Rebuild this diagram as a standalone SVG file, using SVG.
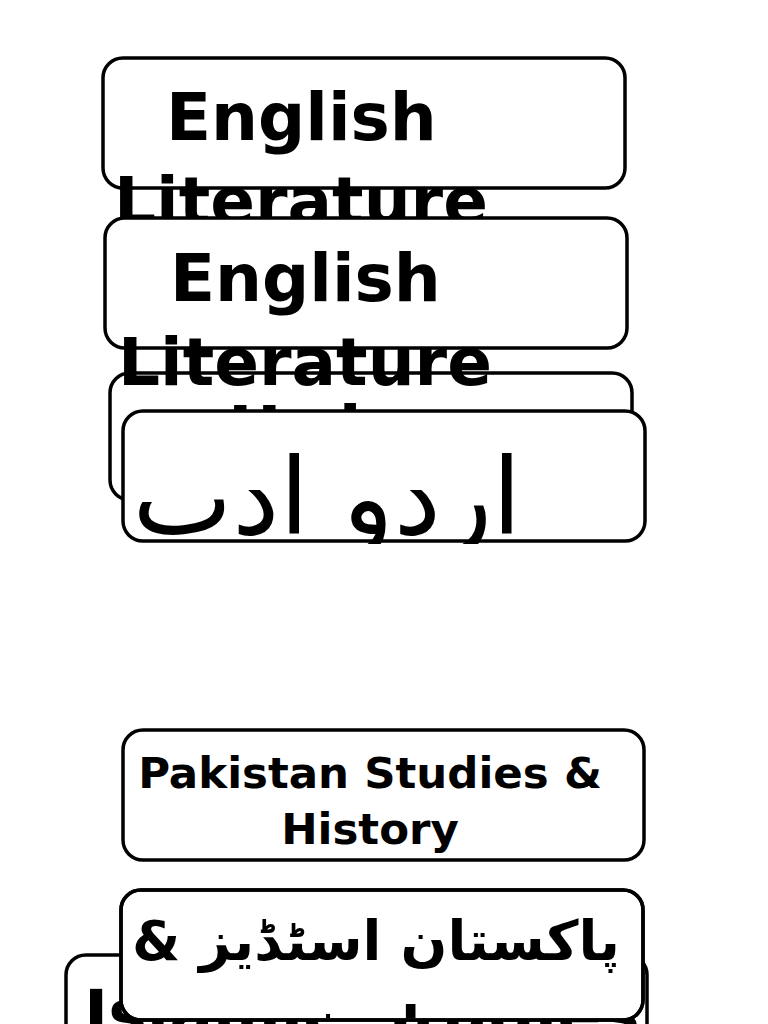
<svg xmlns="http://www.w3.org/2000/svg" width="768" height="1024" viewBox="0 0 768 1024">
<style>
.box{fill:#fff;stroke:#000;stroke-width:3.5}
.en{font-family:"DejaVu Sans",sans-serif;font-weight:bold;fill:#000}
.ur{font-family:"DejaVu Sans","Noto Sans",sans-serif;fill:#000}
</style>
<defs>
<clipPath id="c4"><rect x="110" y="405" width="550" height="139"/></clipPath>
<clipPath id="c6"><rect x="110" y="880" width="550" height="138"/></clipPath>
</defs>
<rect width="768" height="1024" fill="#fff"/>
<g id="node-english-1">
<rect class="box" x="103" y="58" width="522" height="130" rx="20"/>
<text class="en" font-size="66" x="166" y="140">English</text>
<text class="en" font-size="66" x="114" y="224">Literature</text>
</g>
<g id="node-urdu-en">
<rect class="box" x="110" y="373" width="522" height="127" rx="20"/>
<text class="en" font-size="66" x="228" y="453">Urdu</text>
</g>
<g id="node-english-2">
<rect class="box" x="105" y="218" width="522" height="130" rx="20"/>
<text class="en" font-size="66" x="170" y="301">English</text>
<text class="en" font-size="66" x="118" y="385">Literature</text>
</g>
<g id="node-urdu-adab">
<rect class="box" x="123" y="411" width="522" height="130" rx="20"/>
<g clip-path="url(#c4)">
<text class="ur" font-size="106" x="327" y="534" text-anchor="middle" direction="rtl">اردو ادب</text>
</g>
</g>
<g id="node-pakistan-studies">
<rect class="box" x="123" y="730" width="521" height="130" rx="20"/>
<text class="en" font-size="43.5" x="370" y="788" text-anchor="middle">Pakistan Studies &amp;</text>
<text class="en" font-size="43.5" x="370" y="844" text-anchor="middle">History</text>
</g>
<g id="node-islamic">
<rect class="box" x="66" y="955" width="581" height="120" rx="20"/>
<text class="en" font-size="65" x="84" y="1037">Islamic Studies</text>
</g>
<g id="node-pakistan-urdu">
<rect class="box" x="121" y="890" width="522" height="130" rx="20"/>
<g clip-path="url(#c6)">
<text class="ur" font-weight="bold" font-size="55" x="376" y="960" text-anchor="middle" direction="rtl">پاکستان اسٹڈیز &amp;</text>
<text class="ur" font-weight="bold" font-size="55" x="376" y="1046" text-anchor="middle" direction="rtl">تاریخ</text>
</g>
<rect x="121" y="890" width="522" height="130" rx="20" fill="none" stroke="#000" stroke-width="3.5"/>
</g>
<g id="connectors"/>
</svg>
